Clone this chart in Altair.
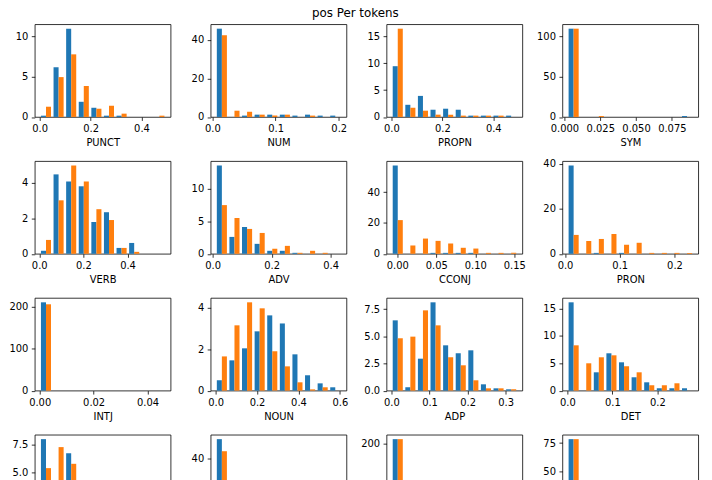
import altair as alt
import pandas as pd

BLUE = "#1f77b4"
ORANGE = "#ff7f0e"

names = ["PUNCT", "NUM", "PROPN", "SYM",
         "VERB", "ADV", "CCONJ", "PRON",
         "INTJ", "NOUN", "ADP", "DET",
         "ADJ", "PART", "X", "SCONJ"]

# histogram range (first and last bin edge) per panel, 10 bins each
bin_lo = [0.0, 0.005, 0.0, 0.002,
          0.002, 0.010, -0.0075, 0.0042,
          0.0, 0.0, 0.0, 0.0,
          0.0, 0.005, 0.0, 0.002]
bin_hi = [0.495, 0.2045, 0.495, 0.090,
          0.573, 0.437, 0.154, 0.2345,
          0.0467, 0.608, 0.331, 0.28,
          0.45, 0.2045, 0.0467, 0.090]

blue_vals = [
    [0.16, 6.16, 10.94, 1.88, 1.14, 0.16, 0.16, 0, 0, 0],
    [45.8, 0, 0.7, 1.2, 1.2, 1.2, 0.7, 1.2, 0.7, 0.7],
    [9.47, 2.27, 3.93, 1.35, 1.54, 1.35, 0.25, 0.25, 0.25, 0.25],
    [109.4, 0, 0, 0, 0, 0, 0, 0, 0, 1.2],
    [0.17, 4.47, 4.07, 3.80, 1.79, 2.34, 0.33, 0.61, 0, 0],
    [13.6, 2.6, 4.13, 1.53, 0.46, 0.46, 0.15, 0, 0, 0],
    [57.4, 0, 0, 0.6, 0.6, 0.6, 0.6, 0, 0, 0],
    [39.3, 0, 0.4, 0, 0.4, 0, 0, 0, 0, 0],
    [210.3, 0, 0, 0, 0, 0, 0, 0, 0, 0],
    [0.5, 1.46, 2.04, 2.86, 3.63, 3.24, 1.75, 0.74, 0.35, 0.16],
    [6.47, 0.31, 2.94, 8.13, 4.17, 3.44, 3.71, 0.58, 0.21, 0.12],
    [16.16, 0, 3.35, 6.83, 5.18, 2.44, 1.52, 0.43, 0.43, 0.43],
    [7.98, 3.2, 6.71, 3.0, 1.5, 0.8, 0.4, 0.2, 0, 0.2],
    [51.2, 0, 1.5, 0.7, 0.7, 0.7, 0, 0.7, 0, 0],
    [210.0, 0, 0, 0, 0, 0, 0, 0, 0, 0],
    [78.5, 0, 0, 0, 0, 0, 0, 0, 0, 0],
]
orange_vals = [
    [1.27, 4.94, 7.76, 3.84, 1.02, 1.39, 0.41, 0, 0, 0.16],
    [42.4, 3.25, 2.7, 1.2, 0.7, 1.2, 0, 0.7, 0, 0],
    [16.47, 1.72, 1.17, 0.43, 0.43, 0.25, 0.25, 0.25, 0.25, 0],
    [109.4, 0, 1.2, 0, 0, 0, 0, 0, 0, 0],
    [0.78, 3.01, 4.97, 4.07, 2.51, 1.90, 0.33, 0.11, 0, 0],
    [7.5, 5.51, 3.83, 3.21, 0.77, 1.22, 0.15, 0.46, 0.15, 0],
    [21.9, 5.4, 9.9, 8.4, 6.7, 3.9, 3.4, 0.6, 0.6, 0.6],
    [8.4, 5.7, 6.6, 8.8, 4.0, 4.9, 0.4, 0.4, 0.4, 0.4],
    [205.6, 0, 0, 0, 0, 0, 0, 0, 0, 0],
    [1.65, 3.15, 4.26, 3.97, 1.9, 1.17, 0.4, 0.06, 0.16, 0],
    [4.82, 4.97, 7.39, 6.01, 3.07, 2.33, 0.95, 0.21, 0.21, 0.12],
    [8.29, 5.0, 6.1, 6.46, 4.45, 3.35, 0.98, 0.98, 1.34, 0],
    [5.36, 7.26, 5.75, 3.5, 2.0, 1.0, 0.5, 0.3, 0.2, 0],
    [44.2, 3.0, 2.0, 1.2, 0.7, 0.7, 0, 0, 0.7, 0],
    [210.0, 0, 0, 0, 0, 0, 0, 0, 0, 0],
    [78.5, 0, 0, 0, 0, 0, 0, 0, 0, 0],
]

x_ticks = [
    [0, 0.2, 0.4], [0, 0.1, 0.2], [0, 0.2, 0.4], [0, 0.025, 0.05, 0.075],
    [0, 0.2, 0.4], [0, 0.2, 0.4], [0, 0.05, 0.1, 0.15], [0, 0.1, 0.2],
    [0, 0.02, 0.04], [0, 0.2, 0.4, 0.6], [0, 0.1, 0.2, 0.3], [0, 0.1, 0.2],
    [0, 0.2, 0.4], [0, 0.1, 0.2], [0, 0.02, 0.04], [0, 0.025, 0.05, 0.075],
]
x_fmt = [".1f", ".1f", ".1f", ".3f",
         ".1f", ".1f", ".2f", ".1f",
         ".2f", ".1f", ".1f", ".1f",
         ".1f", ".1f", ".2f", ".3f"]
y_ticks = [
    [0, 5, 10], [0, 20, 40], [0, 5, 10, 15], [0, 50, 100],
    [0, 2, 4], [0, 5, 10], [0, 20, 40], [0, 20, 40],
    [0, 100, 200], [0, 2, 4], [0, 2.5, 5, 7.5], [0, 5, 10, 15],
    [0, 2.5, 5, 7.5], [0, 20, 40], [0, 100, 200], [0, 25, 50, 75],
]
y_fmt = ["d", "d", "d", "d",
         "d", "d", "d", "d",
         "d", "d", ".1f", "d",
         ".1f", "d", "d", "d"]


def panel(i):
    lo, hi = bin_lo[i], bin_hi[i]
    w = (hi - lo) / 10
    rows = []
    for k in range(10):
        e = lo + k * w
        rows.append({"x0": e + 0.1 * w, "x1": e + 0.5 * w, "v": blue_vals[i][k], "z": 0, "s": "a"})
        rows.append({"x0": e + 0.5 * w, "x1": e + 0.9 * w, "v": orange_vals[i][k], "z": 0, "s": "b"})
    df = pd.DataFrame(rows)
    span = 9.8 * w
    left = lo + 0.1 * w - 0.05 * span
    right = hi - 0.1 * w + 0.05 * span
    ymax = 1.05 * max(max(blue_vals[i]), max(orange_vals[i]))
    return alt.Chart(df).mark_rect().encode(
        x=alt.X("x0:Q",
                scale=alt.Scale(domain=[left, right], nice=False, zero=False),
                axis=alt.Axis(values=x_ticks[i], format=x_fmt[i], title=names[i])),
        x2="x1:Q",
        y=alt.Y("v:Q",
                scale=alt.Scale(domain=[0, ymax], nice=False),
                axis=alt.Axis(values=y_ticks[i], format=y_fmt[i], title=None)),
        y2="z:Q",
        color=alt.Color("s:N",
                        scale=alt.Scale(domain=["a", "b"], range=[BLUE, ORANGE]),
                        legend=None),
    ).properties(width=137, height=93.5)


chart = alt.concat(
    *[panel(i) for i in range(len(names))],
    columns=4,
    spacing={"row": 44, "column": 40.4},
    bounds="flush",
    title=alt.TitleParams("pos Per tokens", fontSize=12, fontWeight="normal",
                          font="DejaVu Sans", color="black", anchor="start",
                          dx=306, offset=4),
).properties(
    padding={"left": 0, "top": -4, "right": 5, "bottom": 5}
).configure(
    font="DejaVu Sans"
).configure_view(
    stroke="black", strokeWidth=0.8
).configure_axis(
    domain=False, grid=False,
    ticks=True, tickColor="black", tickSize=3.5, tickWidth=0.8,
    labelFont="DejaVu Sans", labelFontSize=10, labelColor="black",
    labelPadding=3.5, labelFlush=False, labelOverlap=False,
    titleFont="DejaVu Sans", titleFontSize=10, titleFontWeight="normal",
    titleColor="black", titlePadding=4,
)

chart.save("out.html", embed_options={"renderer": "svg", "actions": False})
